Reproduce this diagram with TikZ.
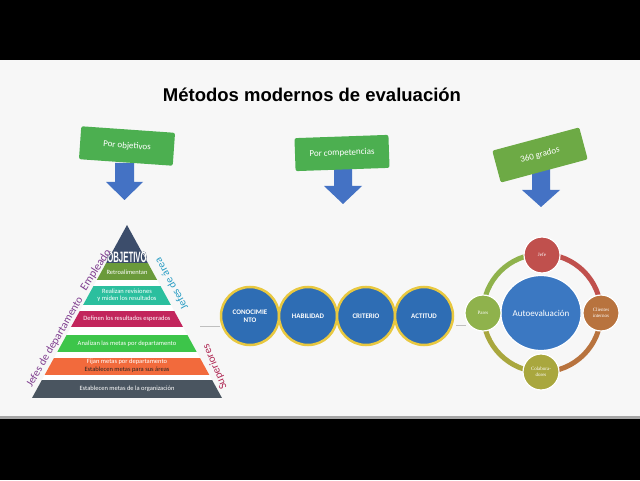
\documentclass[tikz,border=0pt]{standalone}
\usepackage{fontspec}
\setmainfont{Carlito}
\newfontfamily\titlefont{Liberation Sans}
\newfontfamily\objfat{Liberation Sans}[UprightFont={* Bold}, FakeBold=5]
\newfontfamily\smallserif{Liberation Serif}
\usetikzlibrary{shapes.geometric}
\definecolor{bgc}{HTML}{F7F7F7}
\definecolor{boxgreen}{HTML}{4CAF50}
\definecolor{boxolive}{HTML}{6DAA45}
\definecolor{arrowblue}{HTML}{4472C4}
\definecolor{topslate}{HTML}{3C4D6B}
\definecolor{bandolive}{HTML}{6A9A3A}
\definecolor{bandteal}{HTML}{2BBF9E}
\definecolor{bandcrimson}{HTML}{C2255C}
\definecolor{bandgreen}{HTML}{3DC54A}
\definecolor{bandorange}{HTML}{F26A3C}
\definecolor{banddark}{HTML}{4A5560}
\definecolor{lblpurple}{HTML}{7E3C8E}
\definecolor{lblblue}{HTML}{2A9DC4}
\definecolor{lblcrimson}{HTML}{B02A55}
\definecolor{compblue}{HTML}{2E6DB4}
\definecolor{compgold}{HTML}{E8C840}
\definecolor{autoblue}{HTML}{3B78C2}
\definecolor{jefered}{HTML}{C0504D}
\definecolor{clibrown}{HTML}{B8733E}
\definecolor{cololive}{HTML}{A9A73E}
\definecolor{paregreen}{HTML}{8FB24C}
\tikzset{
  gbox/.style={rounded corners=2pt, fill=boxgreen, text=white, minimum width=94pt, minimum height=33pt, inner sep=1pt, font=\fontsize{9}{10}\selectfont},
  downarrow/.style={fill=arrowblue},
  bandtext/.style={text=white, font=\fontsize{6.5}{7.2}\selectfont, inner sep=0pt, align=center},
  sidelbl/.style={font=\fontsize{11}{12}\selectfont, inner sep=0pt},
  comp/.style={circle, fill=compblue, draw=compgold, line width=2.5pt, minimum size=58pt, inner sep=0pt, text=white, font=\bfseries\fontsize{7}{8.5}\selectfont, align=center},
  ringarc/.style={line width=5pt},
  sat/.style={circle, draw=white, line width=1.2pt, minimum size=36pt, inner sep=0pt, text=white, align=center, font=\smallserif\fontsize{5}{6}\selectfont},
  faint/.style={draw=gray!50, line width=0.6pt}
}
\begin{document}
\begin{tikzpicture}[x=1pt,y=1pt]
\useasboundingbox (0,0) rectangle (640,480);
\fill[black] (0,0) rectangle (640,480);
\fill[bgc] (0,64) rectangle (640,420);
\fill[gray!70] (0,61) rectangle (640,64);

% title
\node[font=\titlefont\bfseries\fontsize{18.5}{20}\selectfont, inner sep=0pt] (title) at (312,385) {Métodos modernos de evaluación};

% arrows
\fill[downarrow] (115,317) -- (134,317) -- (134,298) -- (143,298) -- (124.5,280) -- (106,298) -- (115,298) -- cycle;
\fill[downarrow] (334,312) -- (352,312) -- (352,294) -- (362,294) -- (343,276) -- (324,294) -- (334,294) -- cycle;
\fill[downarrow] (532,312) -- (550,312) -- (550,290) -- (560,290) -- (541,273) -- (522,290) -- (532,290) -- cycle;

% boxes
\node[gbox, rotate=-4] (b1) at (127,334) {Por objetivos};
\node[gbox, rotate=2] (b2) at (342,327) {Por competencias};
\node[gbox, fill=boxolive, rotate=15, minimum width=90pt] (b3) at (540,325) {360 grados};

% pyramid
\coordinate (apex) at (127,255);
\coordinate (bl) at (32,82);
\coordinate (br) at (222,82);
\fill[white] (apex) -- (bl) -- (br) -- cycle;
\begin{scope}
\clip (apex) -- (bl) -- (br) -- cycle;
\fill[topslate] (0,256) rectangle (640,217);
\fill[bandolive] (0,217) rectangle (640,200);
\fill[bandteal] (0,194) rectangle (640,175);
\fill[bandcrimson] (0,169) rectangle (640,153);
\fill[bandgreen] (0,145) rectangle (640,128);
\fill[bandorange] (0,122) rectangle (640,105);
\fill[banddark] (0,100) rectangle (640,82);
\end{scope}

% OBJETIVO (dark emboldened copy as outline, white on top)
\node[font=\objfat\fontsize{15}{16}\selectfont, text=topslate, xscale=0.52, inner sep=0pt] (objo) at (127,223) {OBJETIVO};
\node[font=\titlefont\bfseries\fontsize{15}{16}\selectfont, text=white, xscale=0.52, inner sep=0pt] (obj) at (127,223) {OBJETIVO};

\node[bandtext] (t1) at (127,208) {Retroalimentan};
\node[bandtext] (t2) at (127,184.5) {Realizan revisiones\\y miden los resultados};
\node[bandtext] (t3) at (127,161) {Definen los resultados esperados};
\node[bandtext] (t4) at (127,136.5) {Analizan las metas por departamento};
\node[bandtext] (t5) at (127,118) {Fijan metas por departamento};
\node[bandtext, text=black!85] (t6) at (127,110) {Establecen metas para sus áreas};
\node[bandtext] (t7) at (127,91) {Establecen metas de la organización};

% side labels
\node[sidelbl, text=lblpurple, rotate=57, font=\fontsize{11.5}{13}\selectfont] (emp) at (96,210) {Empleado};
\node[sidelbl, text=lblpurple, rotate=60] (jdep) at (55,138) {Jefes de departamento};
\node[sidelbl, text=lblblue, rotate=119] (jarea) at (171,196) {Jefes de área};
\node[sidelbl, text=lblcrimson, rotate=113] (sup) at (215,113) {Superiores};

% competencias
\coordinate (l1) at (200,154);
\node[comp] (c1) at (250,164) {CONOCIMIE\\NTO};
\draw[faint] (l1) -- (l1 -| c1.west);
\node[comp] (c2) at (308,164) {HABILIDAD};
\node[comp] (c3) at (366,164) {CRITERIO};
\node[comp] (c4) at (424,164) {ACTITUD};

% 360
\coordinate (hub) at (542,167);
\coordinate (l2) at (456,155);
\draw[faint] (l2) -- (466,155);
\draw[ringarc, paregreen] ([shift={(180:59)}]hub) arc[start angle=180, end angle=90, radius=59];
\draw[ringarc, jefered] ([shift={(90:59)}]hub) arc[start angle=90, end angle=0, radius=59];
\draw[ringarc, clibrown] ([shift={(0:59)}]hub) arc[start angle=0, end angle=-90, radius=59];
\draw[ringarc, cololive] ([shift={(-90:59)}]hub) arc[start angle=-90, end angle=-180, radius=59];
\node[ellipse, fill=autoblue, draw=white, line width=1.2pt, minimum width=80pt, minimum height=75pt, inner sep=0pt, text=white, font=\fontsize{9}{10}\selectfont] (auto) at (541,167) {Autoevaluación};
\node[sat, fill=jefered] (jefe) at (542,225) {Jefe};
\node[sat, fill=clibrown] (cli) at (601,167) {Clientes\\internos};
\node[sat, fill=cololive] (col) at (541,108) {Colabora-\\dores};
\node[sat, fill=paregreen] (par) at (483,167) {Pares};
\end{tikzpicture}
\end{document}
